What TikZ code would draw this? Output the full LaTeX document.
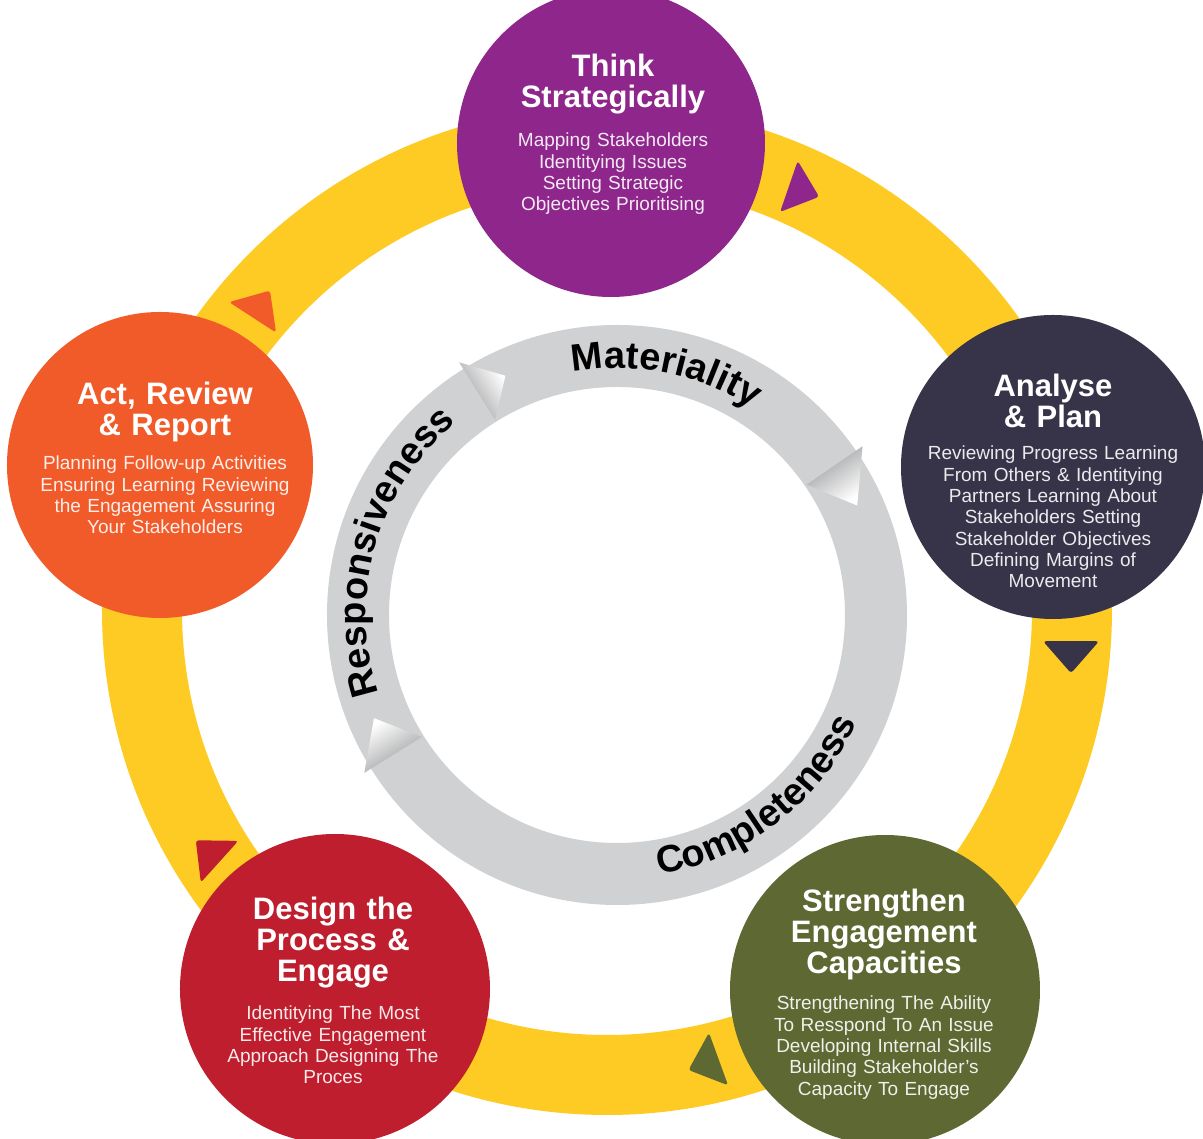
\documentclass[tikz,border=0pt]{standalone}
\usepackage{fontspec}
\setmainfont{Liberation Sans}
\usetikzlibrary{decorations.text}
\definecolor{ringyellow}{RGB}{254,203,36}
\definecolor{cpurple}{RGB}{142,38,140}
\definecolor{cnavy}{RGB}{55,52,74}
\definecolor{colive}{RGB}{94,104,50}
\definecolor{cred}{RGB}{190,30,45}
\definecolor{corange}{RGB}{241,90,41}
\definecolor{ringgray}{RGB}{208,209,211}
\definecolor{foldgray}{RGB}{150,151,153}
\begin{document}
\begin{tikzpicture}[x=1pt,y=1pt,
  stage/.style={circle, fill=#1, inner sep=0pt},
  ttl/.style={anchor=base, text width=300pt, align=center, text=white, inner sep=0pt,
    font=\bfseries\fontsize{31}{31}\selectfont},
  desc/.style={anchor=base, text width=300pt, align=center, text=white!90!#1, inner sep=0pt,
    font=\fontsize{19}{21.3}\selectfont},
  marker/.style={fill=#1, rounded corners=3pt},
  fold/.style={top color=white, bottom color=foldgray}
]
\useasboundingbox (-607,-529) rectangle (596,610);
\fill[white] (-607,-529) rectangle (596,610);
\clip (-607,-529) rectangle (596,610);

% yellow cycle ring
\coordinate (Y0) at (0,0);
\draw[ringyellow, line width=80pt] (Y0) circle[radius=465];

% direction markers on the yellow ring (centroid placed, apex along the flow)
\fill[marker=cpurple, shift={(65.4:462)}, rotate=-19] (21,0) -- (-11,27) -- (-11,-27) -- cycle;
\fill[marker=cnavy, shift={(-5.2:466)}, rotate=-90] (21,0) -- (-11,28) -- (-11,-28) -- cycle;
\fill[marker=colive, shift={(-77.4:464)}, rotate=-160] (21,0) -- (-11,28) -- (-11,-28) -- cycle;
\fill[marker=cred, shift={(211.7:465)}, rotate=138] (21,0) -- (-11,28) -- (-11,-28) -- cycle;
\fill[marker=corange, shift={(139.1:461)}, rotate=57] (21,0) -- (-11,28) -- (-11,-28) -- cycle;

% inner grey ring
\coordinate (G) at (10,-5);
\draw[ringgray, line width=62pt] (G) circle[radius=259];

% folded arrow heads
\begin{scope}[shift={(10,-5)}]
\shade[fold, shading angle=-58] (122:230) -- (122:298) -- (115:264) -- cycle;
\shade[fold, shading angle=-145.5] (34.5:230) -- (34.5:298) -- (24.5:264) -- cycle;
\shade[fold, shading angle=32] (212:230) -- (212:298) -- (203:264) -- cycle;

\path[decorate, decoration={text along path, text align=center,
  text={|\bfseries\fontsize{38}{38}\selectfont|Materiality}}]
  (128.5:247) arc[start angle=128.5, end angle=28.5, radius=247];
\path[decorate, decoration={text along path, text align=center,
  text={|\bfseries\fontsize{38}{38}\selectfont|Responsiveness}}]
  (214:251) arc[start angle=214, end angle=114, radius=251];
\path[decorate, decoration={text along path, text align=center,
  text={|\bfseries\fontsize{38}{38}\selectfont|Completeness}}]
  (-102.5:263) arc[start angle=-102.5, end angle=-2.5, radius=263];
\end{scope}

% stage circles
\node[stage=cpurple, minimum size=308pt] (think) at (4,467) {};
\node[stage=cnavy, minimum size=304pt] (analyse) at (446,143) {};
\node[stage=colive, minimum size=310pt] (strengthen) at (278,-380) {};
\node[stage=cred, minimum size=310pt] (design) at (-272,-379) {};
\node[stage=corange, minimum size=306pt] (act) at (-447,145) {};

% texts
\node[ttl] (thinkT) at (6,533) {Think\\Strategically};
\node[desc=cpurple] (thinkD) at (6,463) {Mapping Stakeholders\\Identitying Issues\\Setting Strategic\\Objectives Prioritising};

\node[ttl] (analyseT) at (446,213) {Analyse\\\& Plan};
\node[desc=cnavy] (analyseD) at (446,150) {Reviewing Progress Learning\\From Others \& Identitying\\Partners Learning About\\Stakeholders Setting\\Stakeholder Objectives\\Defining Margins of\\Movement};

\node[ttl] (strengthenT) at (277,-302) {Strengthen\\Engagement\\Capacities};
\node[desc=colive] (strengthenD) at (277,-400) {Strengthening The Ability\\To Resspond To An Issue\\Developing Internal Skills\\Building Stakeholder's\\Capacity To Engage};

\node[ttl] (designT) at (-274,-310) {Design the\\Process \&\\Engage};
\node[desc=cred] (designD) at (-274,-410) {Identitying The Most\\Effective Engagement\\Approach Designing The\\Proces};

\node[ttl] (actT) at (-442,205) {Act, Review\\\& Report};
\node[desc=corange] (actD) at (-442,140) {Planning Follow-up Activities\\Ensuring Learning Reviewing\\the Engagement Assuring\\Your Stakeholders};
\end{tikzpicture}
\end{document}
